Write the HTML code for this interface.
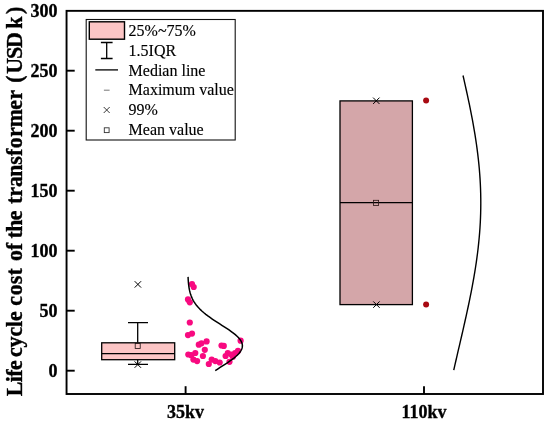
<!DOCTYPE html>
<html><head><meta charset="utf-8"><title>Life cycle cost of the transformer</title>
<style>
html,body{margin:0;padding:0;background:#fff;}
body{width:550px;height:425px;overflow:hidden;}
svg{display:block}
text{font-family:"Liberation Serif","Times New Roman",serif;fill:#000}
.b{font-weight:bold;stroke:#000;stroke-width:0.35px}
.tk{font-size:18px}
.lg{font-size:16px;stroke:#000;stroke-width:0.15px}
.ttl{font-size:21.9px;font-weight:bold;stroke:#000;stroke-width:0.35px}
</style></head><body>
<svg width="550" height="425" viewBox="0 0 550 425">
<rect width="550" height="425" fill="#fff"/>
<!-- frame -->
<rect x="66.55" y="10.85" width="476.45" height="383.15" fill="none" stroke="#000" stroke-width="1.9"/>
<line x1="67" y1="370.7" x2="74.7" y2="370.7" stroke="#000" stroke-width="1.9"/><text transform="translate(57.5,376.7) scale(1,1.002)" text-anchor="end" class="b tk">0</text><line x1="67" y1="310.7" x2="74.7" y2="310.7" stroke="#000" stroke-width="1.9"/><text transform="translate(57.5,316.7) scale(1,1.002)" text-anchor="end" class="b tk">50</text><line x1="67" y1="250.7" x2="74.7" y2="250.7" stroke="#000" stroke-width="1.9"/><text transform="translate(57.5,256.7) scale(1,1.002)" text-anchor="end" class="b tk">100</text><line x1="67" y1="190.7" x2="74.7" y2="190.7" stroke="#000" stroke-width="1.9"/><text transform="translate(57.5,196.7) scale(1,1.002)" text-anchor="end" class="b tk">150</text><line x1="67" y1="130.7" x2="74.7" y2="130.7" stroke="#000" stroke-width="1.9"/><text transform="translate(57.5,136.7) scale(1,1.002)" text-anchor="end" class="b tk">200</text><line x1="67" y1="70.7" x2="74.7" y2="70.7" stroke="#000" stroke-width="1.9"/><text transform="translate(57.5,76.7) scale(1,1.002)" text-anchor="end" class="b tk">250</text><text transform="translate(57.5,16.7) scale(1,1.002)" text-anchor="end" class="b tk">300</text>
<line x1="185.6" y1="386.2" x2="185.6" y2="394" stroke="#000" stroke-width="1.9"/>
<line x1="424" y1="386.2" x2="424" y2="394" stroke="#000" stroke-width="1.9"/>
<text transform="translate(185.6,417.6) scale(1,1.025)" text-anchor="middle" class="b tk">35kv</text>
<text transform="translate(424,417.6) scale(1,1.025)" text-anchor="middle" class="b tk">110kv</text>
<text transform="translate(21.5,201.9) rotate(-90) scale(1,1.01)" x="-194.3 -180.3 -174.8 -168.0 -159.4 -155.0 -145.5 -134.6 -125.1 -119.0 -109.3 -103.8 -93.4 -82.3 -73.7 -65.5 -59.1 -48.4 -41.6 -36.6 -29.9 -18.3 -8.2 -2.2 5.2 14.8 25.1 37.1 45.9 53.7 64.9 74.6 92.2 102.2 112.6 119.2 128.2 143.0 153.8 168.6 173.2 188.0" class="ttl">Life cycle cost of the transformer (USD k)</text>
<!-- legend -->
<rect x="86.2" y="19.5" width="149" height="120.5" fill="#fff" stroke="#111" stroke-width="1.1"/>
<rect x="89.3" y="21.8" width="35.2" height="17.4" fill="#fcc5c5" stroke="#000" stroke-width="1.4"/>
<path d="M100.9,42.5 H112.6 M106.7,42.5 V58.5 M100.9,58.5 H112.6" stroke="#000" stroke-width="1.3" fill="none"/>
<line x1="95.3" y1="69.9" x2="118" y2="69.9" stroke="#000" stroke-width="1.3"/>
<line x1="103.9" y1="90.2" x2="109.6" y2="90.2" stroke="#666" stroke-width="0.9"/>
<path d="M103.7,107 L109.7,113 M103.7,113 L109.7,107" stroke="#222" stroke-width="0.9" fill="none"/>
<rect x="104.3" y="127.8" width="4.8" height="4.8" fill="none" stroke="#333" stroke-width="0.9"/>
<text x="128.6" y="35.6" class="lg">25%~75%</text><text x="128.6" y="55.6" class="lg">1.5IQR</text><text x="128.6" y="75.8" class="lg">Median line</text><text x="128.6" y="95.45" class="lg">Maximum value</text><text x="128.6" y="115.1" class="lg">99%</text><text x="128.6" y="134.75" class="lg">Mean value</text>
<!-- 35kv box -->
<path d="M137.7,342.8 V322.7 M128,322.7 H148 M137.7,359.7 V364.4 M128,364.4 H148" stroke="#000" stroke-width="1.3" fill="none"/>
<rect x="101.7" y="342.8" width="73" height="16.9" fill="#fcc5c5" stroke="#000" stroke-width="1.3"/>
<line x1="101.7" y1="353.6" x2="174.7" y2="353.6" stroke="#000" stroke-width="1.3"/>
<rect x="135.2" y="343.5" width="5" height="5" fill="none" stroke="#1a1010" stroke-width="0.8"/>
<path d="M134.70000000000002,281.2 L141.1,287.59999999999997 M134.70000000000002,287.59999999999997 L141.1,281.2" stroke="#000" stroke-width="1.0" fill="none"/>
<path d="M134.60000000000002,361.40000000000003 L141.0,367.8 M134.60000000000002,367.8 L141.0,361.40000000000003" stroke="#000" stroke-width="1.0" fill="none"/>
<circle cx="192.0" cy="284.1" r="3.1" fill="#f80a80"/><circle cx="193.7" cy="287.0" r="3.1" fill="#f80a80"/><circle cx="188.0" cy="299.4" r="3.1" fill="#f80a80"/><circle cx="189.8" cy="302.3" r="3.1" fill="#f80a80"/><circle cx="189.8" cy="322.5" r="3.1" fill="#f80a80"/><circle cx="188.0" cy="335.1" r="3.1" fill="#f80a80"/><circle cx="192.0" cy="333.6" r="3.1" fill="#f80a80"/><circle cx="198.8" cy="344.7" r="3.1" fill="#f80a80"/><circle cx="201.5" cy="343.3" r="3.1" fill="#f80a80"/><circle cx="206.6" cy="341.4" r="3.1" fill="#f80a80"/><circle cx="204.8" cy="349.8" r="3.1" fill="#f80a80"/><circle cx="202.9" cy="356.0" r="3.1" fill="#f80a80"/><circle cx="188.3" cy="354.5" r="3.1" fill="#f80a80"/><circle cx="191.2" cy="355.2" r="3.1" fill="#f80a80"/><circle cx="195.3" cy="353.0" r="3.1" fill="#f80a80"/><circle cx="193.4" cy="359.6" r="3.1" fill="#f80a80"/><circle cx="197.1" cy="361.1" r="3.1" fill="#f80a80"/><circle cx="208.8" cy="364.0" r="3.1" fill="#f80a80"/><circle cx="211.7" cy="359.6" r="3.1" fill="#f80a80"/><circle cx="215.3" cy="361.1" r="3.1" fill="#f80a80"/><circle cx="219.7" cy="362.5" r="3.1" fill="#f80a80"/><circle cx="221.5" cy="345.5" r="3.1" fill="#f80a80"/><circle cx="223.8" cy="345.9" r="3.1" fill="#f80a80"/><circle cx="225.6" cy="356.0" r="3.1" fill="#f80a80"/><circle cx="227.8" cy="353.0" r="3.1" fill="#f80a80"/><circle cx="231.4" cy="354.5" r="3.1" fill="#f80a80"/><circle cx="235.1" cy="353.0" r="3.1" fill="#f80a80"/><circle cx="238.0" cy="350.9" r="3.1" fill="#f80a80"/><circle cx="240.6" cy="340.7" r="3.1" fill="#f80a80"/><circle cx="229.5" cy="361.8" r="3.1" fill="#f80a80"/><circle cx="232.9" cy="356.7" r="3.1" fill="#f80a80"/>
<path d="M215.23,370.58 L217.64,369.02 L220.08,367.46 L222.52,365.89 L224.95,364.33 L227.34,362.77 L229.64,361.21 L231.84,359.65 L233.90,358.08 L235.80,356.52 L237.50,354.96 L238.98,353.40 L240.22,351.84 L241.19,350.27 L241.88,348.71 L242.29,347.15 L242.40,345.59 L242.21,344.03 L241.72,342.46 L240.95,340.90 L239.90,339.34 L238.60,337.78 L237.06,336.22 L235.30,334.65 L233.36,333.09 L231.26,331.53 L229.03,329.97 L226.70,328.41 L224.30,326.84 L221.86,325.28 L219.41,323.72 L216.98,322.16 L214.59,320.60 L212.26,319.03 L210.01,317.47 L207.86,315.91 L205.81,314.35 L203.89,312.79 L202.10,311.22 L200.43,309.66 L198.90,308.10 L197.50,306.54 L196.23,304.98 L195.09,303.41 L194.07,301.85 L193.16,300.29 L192.36,298.73 L191.65,297.17 L191.04,295.60 L190.51,294.04 L190.06,292.48 L189.67,290.92 L189.34,289.36 L189.06,287.79 L188.82,286.23 L188.63,284.67 L188.47,283.11 L188.33,281.55 L188.23,279.98 L188.14,278.42 L188.07,276.86" fill="none" stroke="#000" stroke-width="1.5"/>
<!-- 110kv box -->
<rect x="340" y="100.9" width="72.4" height="203.7" fill="#d4a6a9" stroke="#000" stroke-width="1.3"/>
<line x1="340" y1="202.65" x2="412.4" y2="202.65" stroke="#000" stroke-width="1.3"/>
<rect x="373.5" y="200.3" width="5.1" height="5.1" fill="none" stroke="#2a1414" stroke-width="0.8"/>
<path d="M373.1,97.6 L379.5,104.0 M373.1,104.0 L379.5,97.6" stroke="#000" stroke-width="1.0" fill="none"/>
<path d="M373.25,301.40000000000003 L379.65,307.8 M373.25,307.8 L379.65,301.40000000000003" stroke="#000" stroke-width="1.0" fill="none"/>
<circle cx="426.1" cy="100.6" r="3" fill="#a80a12"/>
<circle cx="426.1" cy="304.6" r="3" fill="#a80a12"/>
<path d="M453.75,370.10 L454.87,365.19 L455.99,360.28 L457.13,355.37 L458.26,350.46 L459.40,345.55 L460.54,340.64 L461.68,335.73 L462.81,330.82 L463.93,325.91 L465.03,321.00 L466.13,316.09 L467.20,311.18 L468.26,306.27 L469.29,301.36 L470.29,296.45 L471.26,291.54 L472.20,286.63 L473.11,281.72 L473.97,276.81 L474.80,271.90 L475.58,266.99 L476.32,262.08 L477.00,257.17 L477.64,252.26 L478.22,247.35 L478.74,242.44 L479.21,237.53 L479.63,232.62 L479.98,227.71 L480.27,222.80 L480.49,217.89 L480.66,212.98 L480.76,208.07 L480.80,203.16 L480.77,198.25 L480.68,193.34 L480.53,188.43 L480.31,183.52 L480.04,178.61 L479.70,173.70 L479.30,168.79 L478.84,163.88 L478.32,158.97 L477.75,154.06 L477.12,149.15 L476.45,144.24 L475.72,139.33 L474.95,134.42 L474.13,129.51 L473.27,124.60 L472.38,119.69 L471.44,114.78 L470.47,109.87 L469.48,104.96 L468.45,100.05 L467.40,95.14 L466.33,90.23 L465.24,85.32 L464.13,80.41 L463.02,75.50" fill="none" stroke="#000" stroke-width="1.4"/>
</svg>
</body></html>
